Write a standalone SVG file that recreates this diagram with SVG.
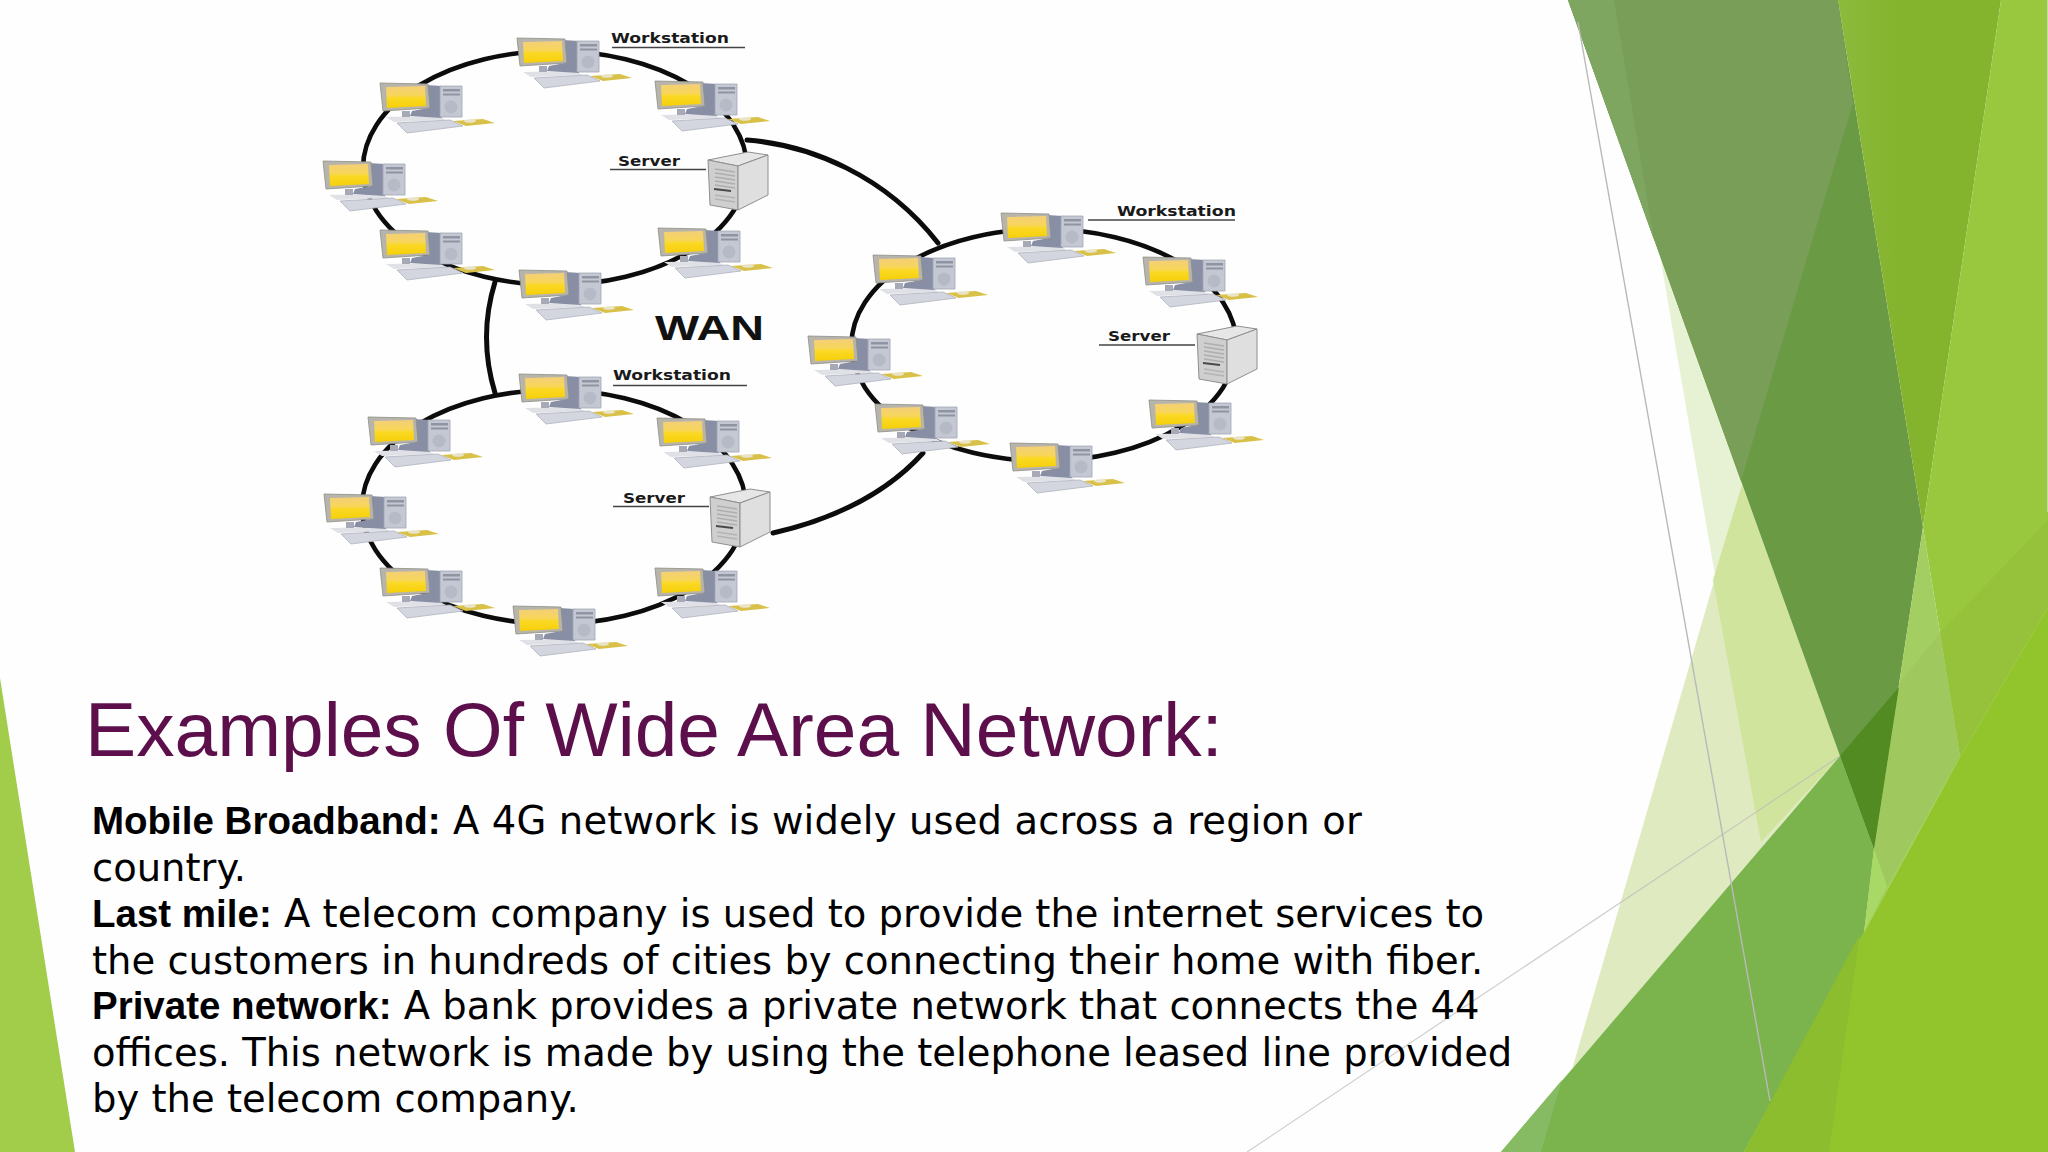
<svg xmlns="http://www.w3.org/2000/svg" width="2048" height="1152" viewBox="0 0 2048 1152">
<style>
.t{font-family:"Liberation Sans",Arial,sans-serif;font-size:76.7px;fill:#5c0f4b}
.p{font-family:"DejaVu Sans",sans-serif;font-size:38.5px;fill:#000}
.b{font-family:"Liberation Sans",Arial,sans-serif;font-weight:700}
.lab{font-family:"DejaVu Sans",sans-serif;font-weight:700;font-size:13.5px;fill:#1a1a1a}
.wan{font-family:"Liberation Sans",Arial,sans-serif;font-weight:700;font-size:35px;fill:#111}
.lead{stroke:#444;stroke-width:1.6;fill:none}
.ring{fill:none;stroke:#0c0c0c;stroke-width:4.6}
.link{fill:none;stroke:#0c0c0c;stroke-width:5;stroke-linecap:round}
.hair{stroke:#b9b9b9;stroke-width:1.4;fill:none}
</style>
<defs>
<filter id="soft" x="-10%" y="-10%" width="120%" height="120%"><feGaussianBlur stdDeviation="0.6"/></filter>
<linearGradient id="scr" x1="0" y1="0" x2="0" y2="1"><stop offset="0" stop-color="#f3cf78"/><stop offset="0.42" stop-color="#f8d65a"/><stop offset="0.55" stop-color="#fbd924"/><stop offset="1" stop-color="#f6cf08"/></linearGradient>
<linearGradient id="lime" gradientUnits="userSpaceOnUse" x1="1838" y1="0" x2="1900" y2="0"><stop offset="0" stop-color="#8cba3c"/><stop offset="1" stop-color="#84b32e"/></linearGradient>
<g id="pc" filter="url(#soft)">
<path d="M73 38L103 36L115 40L86 43Z" fill="#d8c048"/>
<ellipse cx="90" cy="38" rx="6" ry="1.800" fill="#e9e3c8"/>
<path d="M6 34L58 33L66 37L14 39Z" fill="#dfe1e7"/>
<path d="M17 40L70 37L83 43L27 50Z" fill="#d3d6de" stroke="#aeb2be" stroke-width=".8"/>
<path d="M46 2L62 3L62 35L30 33L32 28L48 25Z" fill="#888ea3"/>
<path d="M60 3L82 3L82 34L60 34Z" fill="#c4c8d3" stroke="#a2a6b4" stroke-width=".8"/>
<path d="M63 6H80V8.500H63ZM63 10.500H80V12.500H63Z" fill="#8f93a2"/>
<circle cx="71" cy="24" r="6.500" fill="#b6bac7"/>
<path d="M0 0L48 1L50 25L3 28Z" fill="#b6b4ab" stroke="#8e8d86" stroke-width=".8"/>
<path d="M6 4L45 3L46 23L7 25Z" fill="url(#scr)"/>
<path d="M22 28H30V34H22Z" fill="#a7aab6"/>
</g>
<g id="srv" filter="url(#soft)">
<path d="M0 8L40 0L60 3L30 14Z" fill="#e6e6e6" stroke="#8e8e8e"/>
<path d="M0 8L30 14L30 58L2 53Z" fill="#cfcfcf" stroke="#8e8e8e"/>
<path d="M30 14L60 3L60 43L30 58Z" fill="#dfdfdf" stroke="#8e8e8e"/>
<path d="M7 17L27 20M7 21L27 24M7 25L27 28M7 29L27 32M7 33L27 36" stroke="#aeaeae" stroke-width="1.3"/>
<path d="M6 37L23 39" stroke="#4a4a4a" stroke-width="2.200"/>
<path d="M7 43L27 46M7 47L27 50" stroke="#b4b4b4" stroke-width="1.300"/>
</g>
</defs>
<rect width="2048" height="1152" fill="#fefefe"/>

<g id="background-facets">
<path d="M0 678L75 1152L0 1152Z" fill="#a1cd4a"/>
<path d="M1659 250L1761 842L1840 756Z" fill="#e7f1d4"/>
<path d="M1742 485L1566 1090L1501 1152L1840 756Z" fill="#dfeac0"/>
<path d="M1742 485L1713 580L1761 842L1840 756Z" fill="#d0e49e"/>
<path d="M1568 0H1838L1923 527L1874 849L1840 756Z" fill="#6b9a44"/>
<path d="M1568 0H1838L1853 103L1741 481Z" fill="#789e57"/>
<path d="M1568 0H1614L1654 240Z" fill="#7fa660"/>
<path d="M1838 0H2001L1923 527Z" fill="url(#lime)"/>
<path d="M2001 0H2048V607L1960 757L1923 527Z" fill="#99c73e"/>
<path d="M1940 633L2048 520V607L1960 757Z" fill="#96c13a"/>
<path d="M1923 527L1960 757L1864 933L1874 849Z" fill="#a3cf62"/>
<path d="M1900 682L1940 633L1960 757L1887 886L1874 849Z" fill="#9fc95e"/>
<path d="M1501 1152L1840 756L1874 849L1864 933L1744 1152Z" fill="#7bb34d"/>
<path d="M1501 1152L1562 1080L1541 1152Z" fill="#86bb63"/>
<path d="M1840 756L1899 687L1874 849Z" fill="#518b22"/>
<path d="M1874 849L1887 886L1864 933Z" fill="#a8d866"/>
<path d="M1744 1152L1960 757L2048 607V1152Z" fill="#92c52c"/>
<path d="M1744 1152L1860 934L1829 1152Z" fill="#8cbd2e"/>
<path d="M2047.500 0V512" stroke="#c6dba0" stroke-width="1" fill="none"/>
<path d="M1578 22L1770 1101" class="hair"/>
<path d="M1840 756L1247 1152" class="hair" stroke-opacity=".75" style="stroke-width:1.1"/>
</g>

<g id="connectors">
<ellipse class="ring" cx="555" cy="168" rx="192" ry="117"/>
<ellipse class="ring" cx="1044" cy="345" rx="192.500" ry="116"/>
<ellipse class="ring" cx="554" cy="507" rx="192" ry="117"/>
<path class="link" d="M747 140C810 145 885 175 938 243"/>
<path class="link" d="M773 533C830 520 885 495 923 453"/>
<path class="link" d="M495 282Q478 337 495 393"/>
</g>

<g id="ring1-workstation1"><use href="#pc" x="517" y="38"/></g>
<g id="ring1-workstation2"><use href="#pc" x="380" y="83"/></g>
<g id="ring1-workstation3"><use href="#pc" x="655" y="81"/></g>
<g id="ring1-workstation4"><use href="#pc" x="323" y="161"/></g>
<g id="ring1-workstation5"><use href="#pc" x="380" y="230"/></g>
<g id="ring1-workstation6"><use href="#pc" x="658" y="228"/></g>
<g id="ring1-workstation7"><use href="#pc" x="519" y="270"/></g>
<g id="ring1-server"><use href="#srv" x="708" y="152"/></g>

<g id="ring2-workstation1"><use href="#pc" x="1001" y="213"/></g>
<g id="ring2-workstation2"><use href="#pc" x="873" y="255"/></g>
<g id="ring2-workstation3"><use href="#pc" x="1143" y="257"/></g>
<g id="ring2-workstation4"><use href="#pc" x="808" y="336"/></g>
<g id="ring2-workstation5"><use href="#pc" x="875" y="404"/></g>
<g id="ring2-workstation6"><use href="#pc" x="1149" y="400"/></g>
<g id="ring2-workstation7"><use href="#pc" x="1010" y="443"/></g>
<g id="ring2-server"><use href="#srv" x="1197" y="326"/></g>

<g id="ring3-workstation1"><use href="#pc" x="519" y="374"/></g>
<g id="ring3-workstation2"><use href="#pc" x="368" y="417"/></g>
<g id="ring3-workstation3"><use href="#pc" x="657" y="418"/></g>
<g id="ring3-workstation4"><use href="#pc" x="324" y="494"/></g>
<g id="ring3-workstation5"><use href="#pc" x="380" y="568"/></g>
<g id="ring3-workstation6"><use href="#pc" x="655" y="568"/></g>
<g id="ring3-workstation7"><use href="#pc" x="513" y="606"/></g>
<g id="ring3-server"><use href="#srv" x="710" y="489"/></g>

<g id="labels">
<path class="lead" d="M612 47.500H745M1088 220H1235M613 385.500H747M610 169.500H706M1099 345H1195M613 506.500H709"/>
<text class="lab" x="611" y="43" textLength="118" lengthAdjust="spacingAndGlyphs">Workstation</text>
<text class="lab" x="1117" y="216" textLength="119" lengthAdjust="spacingAndGlyphs">Workstation</text>
<text class="lab" x="613" y="380" textLength="118" lengthAdjust="spacingAndGlyphs">Workstation</text>
<text class="lab" x="618" y="166" textLength="62" lengthAdjust="spacingAndGlyphs">Server</text>
<text class="lab" x="1108" y="341" textLength="62" lengthAdjust="spacingAndGlyphs">Server</text>
<text class="lab" x="623" y="503" textLength="62" lengthAdjust="spacingAndGlyphs">Server</text>
<text class="wan" x="655" y="340" textLength="109" lengthAdjust="spacingAndGlyphs">WAN</text>
</g>

<g id="text">
<text class="t" x="85" y="756">Examples Of Wide Area Network:</text>
<text class="p" x="92" y="834"><tspan class="b">Mobile Broadband:</tspan><tspan letter-spacing=".14"> A 4G network is widely used across a region or</tspan></text>
<text class="p" x="92" y="881">country.</text>
<text class="p" x="92" y="927"><tspan class="b">Last mile:</tspan> A telecom company is used to provide the internet services to</text>
<text class="p" x="92" y="974">the customers in hundreds of cities by connecting their home with fiber.</text>
<text class="p" x="92" y="1019"><tspan class="b">Private network:</tspan> A bank provides a private network that connects the 44</text>
<text class="p" x="92" y="1066">offices. This network is made by using the telephone leased line provided</text>
<text class="p" x="92" y="1112">by the telecom company.</text>
</g>
</svg>
